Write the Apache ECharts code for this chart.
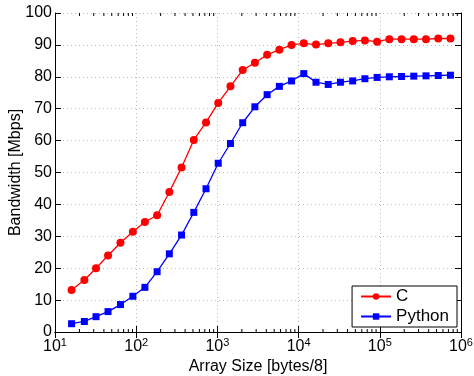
<!DOCTYPE html>
<html>
<head>
<meta charset="utf-8">
<script src="https://cdn.jsdelivr.net/npm/echarts@6/dist/echarts.min.js"></script>
<style>
	html, body { margin: 0; padding: 0; background: #fff; }
	#chart { width: 474px; height: 376px; }
</style>
</head>
<body>
<div id="chart"></div>
<script>
// array sizes, 2^(4 + k/2)
const sizes = [
	16, 23, 32, 45, 64, 91, 128, 181, 256, 362, 512, 724,
	1024, 1448, 2048, 2896, 4096, 5793, 8192, 11585, 16384, 23170,
	32768, 46341, 65536, 92682, 131072, 185364, 262144, 370728, 524288, 741455,
];
const cBandwidth = [
	13.2, 16.3, 20.0, 24.0, 28.0, 31.4, 34.5, 36.6, 43.9, 51.6, 60.2, 65.7,
	71.8, 77.0, 82.1, 84.4, 86.9, 88.5, 90.0, 90.5, 90.1, 90.5,
	90.8, 91.2, 91.4, 91.0, 91.8, 91.8, 91.8, 91.8, 92.0, 92.0,
];
const pyBandwidth = [
	2.6, 3.3, 4.8, 6.4, 8.6, 11.2, 14.0, 18.9, 24.5, 30.4, 37.5, 44.9,
	52.9, 59.1, 65.6, 70.6, 74.4, 77.0, 78.7, 81.0, 78.3, 77.6,
	78.3, 78.7, 79.4, 79.8, 80.0, 80.1, 80.2, 80.3, 80.4, 80.5,
];
const seriesNames = ["C", "Python"];
const xAxisTitle = "Array Size [bytes/8]";
const yAxisTitle = "Bandwidth [Mbps]";

const font = "Liberation Sans";
const chart = echarts.init(document.getElementById("chart"), null, { renderer: "canvas" });

// minor ticks of the log axis: 2..9 x 10^k
const minors = [];
for (let e = 1; e < 6; e++)
	for (let m = 2; m < 10; m++)
		minors.push([m * Math.pow(10, e), 0]);

const gridLine = { show: true, lineStyle: { color: "#b8b8b8", type: [1, 3], width: 1 } };

chart.setOption({
	animation : false,
	textStyle : { fontFamily: font },
	grid      : { left: 55, right: 13, top: 13, bottom: 44, outerBoundsMode: "none", containLabel: false },
	legend    : {
		data            : seriesNames,
		orient          : "vertical",
		right           : 17,
		bottom          : 49,
		backgroundColor : "#fff",
		borderColor     : "#000",
		borderWidth     : 1,
		borderRadius    : 0,
		padding         : [2, 8, 2, 8],
		itemGap         : 3,
		itemWidth       : 30,
		itemHeight      : 8,
		textStyle       : { fontSize: 17, color: "#000", fontFamily: font },
	},
	xAxis: [
		{
			type            : "log",
			logBase         : 10,
			min             : 10,
			max             : 1e6,
			name            : xAxisTitle,
			nameLocation    : "middle",
			nameGap         : 27,
			nameMoveOverlap : false,
			nameTextStyle   : { fontSize: 16, color: "#000", fontFamily: font },
			axisLine        : { lineStyle: { color: "#000", width: 1 } },
			axisTick        : { inside: true, length: 6, lineStyle: { color: "#000" } },
			splitLine       : gridLine,
			axisLabel       : {
				margin    : 5,
				color     : "#000",
				formatter : v => "{b|10}{s|" + Math.round(Math.log10(v)) + "}",
				rich      : {
					b: { fontSize: 16, fontFamily: font, color: "#000" },
					s: { fontSize: 11, fontFamily: font, color: "#000", verticalAlign: "bottom", padding: [0, 0, 8, 0] },
				},
			},
		},
		{
			type      : "log",
			logBase   : 10,
			min       : 10,
			max       : 1e6,
			position  : "top",
			axisLine  : { lineStyle: { color: "#000", width: 1 } },
			axisTick  : { inside: true, length: 6, lineStyle: { color: "#000" } },
			axisLabel : { show: false },
			splitLine : { show: false },
		},
	],
	yAxis: [
		{
			type            : "value",
			min             : 0,
			max             : 100,
			interval        : 10,
			name            : yAxisTitle,
			nameLocation    : "middle",
			nameGap         : 31,
			nameMoveOverlap : false,
			nameTextStyle   : { fontSize: 16, color: "#000", fontFamily: font },
			axisLine        : { show: true, lineStyle: { color: "#000", width: 1 } },
			axisTick        : { show: true, inside: true, length: 6, lineStyle: { color: "#000" } },
			splitLine       : gridLine,
			axisLabel       : { fontSize: 16, color: "#000", margin: 3, fontFamily: font },
		},
		{
			type      : "value",
			min       : 0,
			max       : 100,
			interval  : 10,
			position  : "right",
			axisLine  : { show: true, lineStyle: { color: "#000", width: 1 } },
			axisTick  : { show: true, inside: true, length: 6, lineStyle: { color: "#000" } },
			axisLabel : { show: false },
			splitLine : { show: false },
		},
	],
	series: [
		{
			type       : "custom",
			silent     : true,
			xAxisIndex : 0,
			yAxisIndex : 0,
			data       : minors,
			encode     : { x: 0, y: 1 },
			renderItem : (params, api) => {
				const b = api.coord([api.value(0), 0]);
				const t = api.coord([api.value(0), 100]);
				const style = { stroke: "#000", lineWidth: 1 };
				return {
					type     : "group",
					children : [
						{ type: "line", shape: { x1: b[0], y1: b[1], x2: b[0], y2: b[1] - 3 }, style },
						{ type: "line", shape: { x1: t[0], y1: t[1], x2: t[0], y2: t[1] + 3 }, style },
					],
				};
			},
			z: 1,
		},
		{
			name       : seriesNames[0],
			type       : "line",
			data       : sizes.map((s, i) => [s, cBandwidth[i]]),
			color      : "#ff0000",
			symbol     : "circle",
			symbolSize : 8,
			lineStyle  : { width: 1.3 },
			z          : 3,
		},
		{
			name       : seriesNames[1],
			type       : "line",
			data       : sizes.map((s, i) => [s, pyBandwidth[i]]),
			color      : "#0000ff",
			symbol     : "rect",
			symbolSize : 7,
			lineStyle  : { width: 1.3 },
			z          : 3,
		},
	],
});
</script>
</body>
</html>
